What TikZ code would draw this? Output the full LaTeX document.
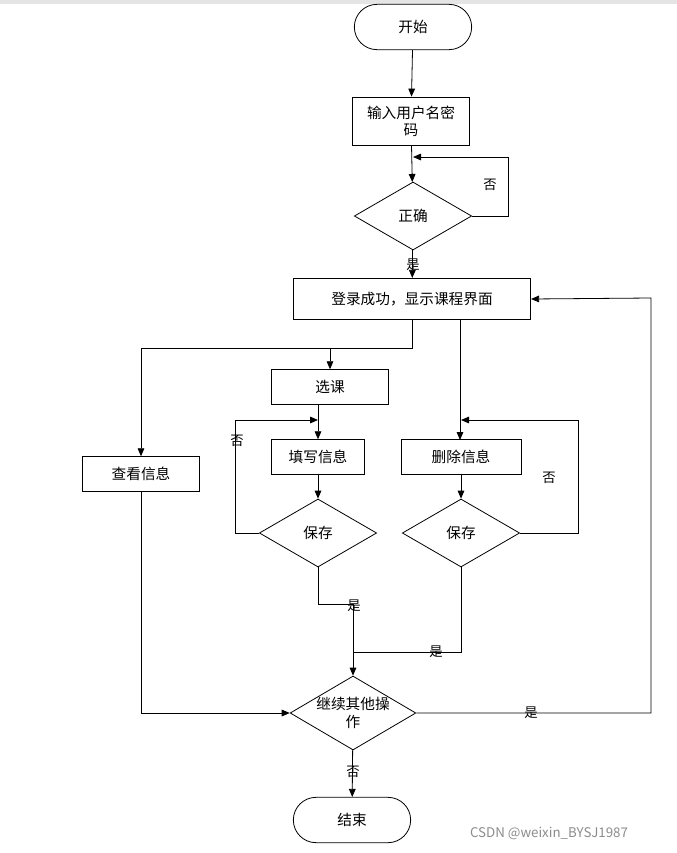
\documentclass[tikz,border=0pt]{standalone}
\usepackage{fontspec}
\setmainfont{Noto Sans CJK SC}
\usetikzlibrary{shapes.geometric,arrows.meta}
\begin{document}
\begin{tikzpicture}[x=0.75pt,y=-0.75pt,
  box/.style={draw,minimum width=88pt,minimum height=26pt,inner sep=1pt,align=center,font=\fontsize{11}{13}\selectfont},
  term/.style={draw,rounded corners=17pt,minimum width=88pt,minimum height=34pt,font=\fontsize{11}{13}\selectfont},
  dia/.style={draw,diamond,aspect=1.7,minimum width=88pt,minimum height=51pt,inner sep=0pt,align=center,font=\fontsize{11}{13}\selectfont},
  lab/.style={font=\fontsize{10}{12}\selectfont},
  arr/.style={-{Triangle[length=6pt,width=5pt]}},
  every path/.style={line width=0.6pt}]
\useasboundingbox (0,0) rectangle (677,853);
\fill[black!10] (0,0) rectangle (677,4);
\node[term] (start) at (413,27) {开始};
\node[box,minimum height=36pt,text width=82pt] (input) at (411,121) {输入用户名密\\码};
\node[dia] (ok) at (413,216) {正确};
\node[box,minimum width=178pt,minimum height=31pt] (login) at (412,299) {登录成功，显示课程界面};
\node[box] (sel) at (330,387) {选课};
\node[box] (view) at (141,474) {查看信息};
\node[box,minimum width=70pt] (fill) at (318,457) {填写信息};
\node[box,minimum width=90pt] (del) at (461,457) {删除信息};
\node[dia] (s1) at (318,533) {保存};
\node[dia] (s2) at (461,533) {保存};
\node[dia,minimum width=90pt,minimum height=53pt] (cont) at (353,713) {继续其他操\\作};
\node[term] (end) at (352,820) {结束};
\coordinate (c1) at (413,157);
\coordinate (c2) at (330,348);
\coordinate (c3) at (318,420);
\coordinate (c4) at (461,420);
\coordinate (c5) at (353,604);
\coordinate (c6) at (353,652);
\draw[arr] (start) -- (input);
\draw[arr] (input) -- (ok);
\draw[arr] (ok.east) -- (508,216) -- (508,157) -- (c1);
\node[lab] at (490,185) {否};
\draw[arr] (ok) -- (login);
\node[lab] at (413,265) {是};
\draw[arr] (412,320) -- (412,348) -- (141,348) -- (view);
\draw[arr] (c2) -- (sel);
\draw[arr] (460,320) -- (460,440);
\draw[arr] (318,405) -- (fill);
\draw[arr] (fill) -- (s1);
\draw[arr] (s1.west) -- (235,533) -- (235,420) -- (c3);
\node[lab] at (237,441) {否};
\draw[arr] (del) -- (s2);
\draw[arr] (s2.east) -- (578,533) -- (578,420) -- (c4);
\node[lab] at (549,478) {否};
\draw (s1.south) -- (318,604) -- (c5);
\node[lab] at (354,606) {是};
\draw (s2.south) -- (461,652) -- (c6);
\node[lab] at (436,652) {是};
\draw[arr] (353,604) -- (cont.north);
\draw[arr] (view) -- (141,713) -- (cont.west);
\draw[arr] (cont.east) -- (651,713) -- (651,298) -- (login.east);
\node[lab] at (531,713) {是};
\draw[arr] (cont) -- (end);
\node[lab] at (353,772) {否};
\node[text=black!45,font=\fontsize{10}{12}\selectfont] (wm) at (549,833) {CSDN @weixin\_BYSJ1987};
\end{tikzpicture}
\end{document}
